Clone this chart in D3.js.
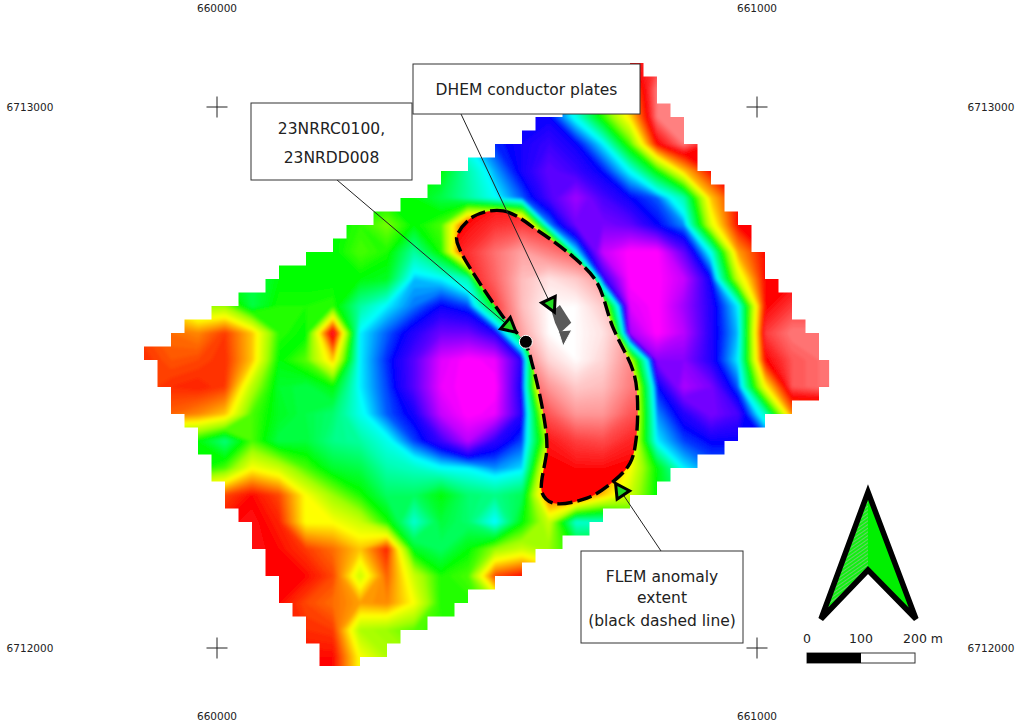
<!DOCTYPE html>
<html>
<head>
<meta charset="utf-8">
<style>
  html, body { margin: 0; background: #fff; }
  text { font-family: "DejaVu Sans", sans-serif; fill: #222; }
</style>
<script src="https://cdn.jsdelivr.net/npm/d3@7"></script>
</head>
<body>
<svg id="chart" width="1024" height="724"></svg>
<script>
// survey grid, one row of readings every 2 stations (colour position on the ramp)
var gridRows = [
  [5,5,5,5,5,5,5,5,5,5,5,4,3,2.5,2,2.2,4,7,9,9.5,10,10,10,10,10,10,10],
  [5,5,5,5,5,5,5,5,5,5,5,4,3,2.3,1.8,2.2,3.5,5.8,8,10,10,10,10,10,10,10,10],
  [5,5,5,5,5,5,5,5,5,5,5,4,3,2.3,2,2,3.2,5.3,7.3,10,10,10,10,10,10,10,10],
  [5,5,5,5,5,5,5,5,5,5,5,5,3,2.2,1.9,1.6,2,3,5.5,9,10,9,9,9,9,9,9],
  [5,5,5,5,5,5,5,5,5,5,5,5,3.7,2.7,1.9,1.3,1.6,2.1,3.1,5.1,7.5,9,9,9,9,9,9],
  [5,5,5,5,5,5,5,5,5,5,5,4.5,3.8,3.1,2.4,1.5,0.8,1.5,2,2.4,3.7,7.5,9,9,9,9,9],
  [5,5,5,5,5,5,5,5,5.3,5.8,5,5.5,9,9.5,9.2,2.6,1.2,1.1,1.3,2,2.6,6.7,9,9,9,9,9],
  [5,5,5,5,5,5,5,5,5.5,5.2,3.8,5.2,9.6,10,10.3,10,3,0.5,0,0,1.3,3.2,7.8,9,9,9,9],
  [5,5,5,5,4.5,5,5,5,5,4.8,2.8,3,3.7,10.2,10.6,10.8,10.5,1.8,0,0,0.5,2,6.5,9,9,9,9],
  [8,7,6,6,4.5,5.2,5.2,5.3,3.8,3,2.5,2,2.3,5,10.8,11,10.8,6.6,0.3,0,0.8,1.8,3,9,9.5,9.5,9.5],
  [8.5,8.2,8,8.6,7.5,5.3,5,9.5,3,2.4,1.8,1.2,1.2,1.8,5,11,11,10,0.8,0,0.6,1.8,2.8,9.5,10,10,10],
  [8.7,8.4,8.5,8.7,7.5,5,5.6,7.5,3,2.2,1.4,0.3,0,0.2,1.8,10.8,10.8,10.5,6.5,1,1,1.8,3,9,9.7,9.9,9.9],
  [8.5,8.7,8.8,8.6,6.3,4.7,4.5,5,3,2.3,1.4,0.2,0,0,2,10.4,10.6,10.2,8,2.1,0.7,1.1,2.4,7,9.7,9.9,9.9],
  [8.5,8.3,8,7.5,5.5,4.8,4.5,4.2,3.2,2.4,1.9,0.5,0,0.2,1.8,7.8,10.3,10,8,2.6,1.8,1.1,1.5,3.5,8,8,8],
  [5,5,5,4.1,5.5,4.5,4.6,4,3.8,3.2,2.3,1.6,0.6,1.7,2.3,6.5,9.6,9.5,7.5,3,2.3,2,2,2,2,2,2],
  [5,5,5,5.5,7,6.5,5.5,4.7,4.5,3.7,3.5,3.1,3,2.6,2.9,8,9.3,9.2,7,5,3,2.5,2.5,2.5,2.5,2.5,2.5],
  [8,8,8,8.5,9,8.5,7,6,5.2,4.3,4.3,5,4.2,4,4.4,8.5,9,7.5,6.5,5,4,4,4,4,4,4,4],
  [9,9,9,9,9.2,8.8,7,7,6.5,5.2,3.4,4.6,4.2,3,5,6.5,3.4,3.5,5,5,5,5,5,5,5,5,5],
  [9,9,9,9,9.2,9,8.6,8.2,7.5,8.8,4.8,4.3,5,6,6.5,6,5,5,5,5,5,5,5,5,5,5,5],
  [9,9,9,9,9,9,9,8.5,6.5,8.3,6.5,5.2,5.5,8.5,9,8,6,6,6,6,6,6,6,6,6,6,6],
  [9,9,9,9,9,9,8.5,8.2,7.8,8,7,5.2,5.2,6,6,6,6,6,6,6,6,6,6,6,6,6,6],
  [9,9,9,9,9,9,8.7,8.6,6.2,6,5.6,5.3,5.5,6,6,6,6,6,6,6,6,6,6,6,6,6,6],
  [9,9,9,9,9,9,9,9,7,6.2,6,5.5,5.5,6,6,6,6,6,6,6,6,6,6,6,6,6,6],
  [9,9,9,9,9,9,9,9,7,6.2,6,5.5,5.5,6,6,6,6,6,6,6,6,6,6,6,6,6,6]
];

// readings inside the anomaly, same spacing, starts at node 11 of grid row 5
var anomalyRows = [
  [9,9,9,9,9,9,9,9,9],
  [9,9.1,9.4,9.5,9.3,9.2,9.2,9.2,9],
  [9,9.4,9.9,10.3,10,9.7,9.5,9.5,9],
  [9,9.2,9.8,10.5,10.8,10.6,10.2,9.8,9.5],
  [9,9,9.5,10.5,11,11,10.6,10.2,10],
  [9,9,9.4,10.3,11,11,10.8,10.2,10],
  [9,9,9.4,9.9,10.7,11,10.7,10.1,10],
  [9,9,9,9.5,10.2,10.6,10.5,10,9.8],
  [9,9,9,9.2,9.7,10.2,10.2,9.7,9.5],
  [9,9,9,9,9.2,9.5,9.6,9.3,9.1],
  [9,9,9,9,9,9.1,9.1,9,9],
  [9,9,9,9,9,9,9,9,9],
  [9,9,9,9,9,9,9,9,9]
];

// first and last station of every line of the survey, top to bottom
var lineStart = [36,34,32,31,29,28,26,24,22,21,19,17,15,14,12,10,9,7,5,3,2,0,1,1,2,2,3,4,4,5,5,6,6,7,8,8,9,9,10,10,11,12,12,13,13];
var lineEnd = [37,38,38,39,40,40,41,41,42,43,43,44,45,45,46,46,47,48,48,49,50,50,50.75,50.75,50,48,46,44,43,41,39,38,36,34,33,31,29,28,26,24,23,21,19,18,16];

var rampStops = [0,1,2,3,4,5,6,7,8,9,10,11];
var rampColors = ["#ff00ff","#8000ff","#0000ff","#00ffff","#00ff80","#00ff00","#a0ff00","#ffff00","#ff8000","#ff0000","#ff8080","#ffffff"];

var eastTicks = [660000, 661000];
var northTicks = [6713000, 6712000];
var barMetres = [0, 100, 200];
var barLabels = ["0", "100", "200 m"];

var anomalyEast = [660474,660530,660598,660672,660704,660733,660770,660778,660776,660765,660733,660685,660622,660602,660611,660604,660585,660572,660530,660483,660450,660444];
var anomalyNorth = [6712797,6712808,6712769,6712712,6712675,6712593,6712514,6712471,6712385,6712342,6712307,6712277,6712268,6712287,6712372,6712435,6712520,6712560,6712612,6712680,6712736,6712760];

var plateEast = [660620,660635,660656,660635,660626];
var plateNorth = [6712621,6712634,6712601,6712582,6712601];
var plateTailEast = [660632,660657,660641];
var plateTailNorth = [6712586,6712588,6712558];

var holeEast = 660572, holeNorth = 6712566;

var svg = d3.select("#chart");
var defs = svg.append("defs");

var x = d3.scaleLinear().domain(eastTicks).range([217, 757]);
var y = d3.scaleLinear().domain(northTicks).range([107, 648]);

// station number -> pixel
var stationX = d3.scaleLinear().domain([0, 1]).range([144, 157.5]);
var stationY = d3.scaleLinear().domain([0, 1]).range([63, 76.5]);
var nodeX = d3.scaleLinear().domain([0, 1]).range([144, 171]);
var nodeY = d3.scaleLinear().domain([0, 1]).range([63, 90]);
var color = d3.scaleLinear().domain(rampStops).range(rampColors);

// stair stepped outline of the survey, one path so the lines leave no seams
var surveyPath = lineStart.map(function(d, i) {
  var bottom = i == lineStart.length - 1 ? 666 : stationY(i + 1);
  return "M" + stationX(d) + "," + stationY(i) + "H" + stationX(lineEnd[i]) + "V" + bottom + "H" + stationX(d) + "Z";
}).join("");
defs.append("clipPath").attr("id", "survey").append("path").attr("d", surveyPath);

// FLEM anomaly extent
var outline = d3.line()
  .x(function(d) { return x(anomalyEast[d]); })
  .y(function(d) { return y(anomalyNorth[d]); })
  .curve(d3.curveCatmullRomClosed.alpha(0.5));
var outlinePath = outline(d3.range(anomalyEast.length));
defs.append("clipPath").attr("id", "inside").append("path").attr("d", outlinePath);

defs.append("filter").attr("id", "soft")
  .attr("x", 0).attr("y", 0).attr("width", 1).attr("height", 1)
  .append("feGaussianBlur").attr("stdDeviation", 1.8);

var hatch = defs.append("pattern").attr("id", "hatch")
  .attr("width", 3).attr("height", 3)
  .attr("patternUnits", "userSpaceOnUse")
  .attr("patternTransform", "rotate(-35)");
hatch.append("rect").attr("width", 3).attr("height", 3).attr("fill", "#10f010");
hatch.append("rect").attr("width", 3).attr("height", 1).attr("fill", "#6ad06a");

function drawGrid(rows, thresholds, startCol, startRow, clipId) {
  var nRows = rows.length, nCols = rows[0].length;
  var contours = d3.contours().size([nCols, nRows]).thresholds(thresholds)(d3.merge(rows));
  var path = d3.geoPath(d3.geoTransform({
    point: function(px, py) { this.stream.point(nodeX(px - 0.5 + startCol), nodeY(py - 0.5 + startRow)); }
  }));
  svg.append("g").attr("clip-path", "url(#" + clipId + ")")
    .append("g").attr("filter", "url(#soft)")
    .selectAll("path").data(contours).join("path")
    .attr("d", path)
    .attr("fill", function(d) { return color(d.value); });
}
drawGrid(gridRows, d3.range(0, 11.05, 0.1), 0, 0, "survey");
drawGrid(anomalyRows, d3.range(9, 11.02, 0.05), 11, 5, "inside");

svg.append("path")
  .attr("d", outlinePath)
  .attr("fill", "none")
  .attr("stroke", "#000")
  .attr("stroke-width", 3.4)
  .attr("stroke-dasharray", "15 5");

// conductor plates
function plate(es, ns, fill, stroke) {
  svg.append("polygon")
    .attr("points", es.map(function(e, i) { return x(e) + "," + y(ns[i]); }).join(" "))
    .attr("fill", fill).attr("stroke", stroke || "none");
}
plate(plateTailEast, plateTailNorth, "#555", "#fff");
plate(plateEast, plateNorth, "#5a5a5a");

// graticule crosses and labels
var crossPts = d3.cross(eastTicks, northTicks);
svg.append("g").selectAll("path").data(crossPts).join("path")
  .attr("d", function(d) {
    var cx = x(d[0]), cy = y(d[1]);
    return "M" + (cx - 10.5) + "," + cy + "H" + (cx + 10.5) + "M" + cx + "," + (cy - 10.5) + "V" + (cy + 10.5);
  })
  .attr("stroke", "#222").attr("fill", "none").attr("stroke-width", 1);

[12, 720].forEach(function(ty) {
  svg.append("g").selectAll("text").data(eastTicks).join("text")
    .attr("x", function(d) { return x(d); }).attr("y", ty)
    .attr("text-anchor", "middle").attr("font-size", 10.5)
    .text(function(d) { return d; });
});
[30, 991].forEach(function(tx) {
  svg.append("g").selectAll("text").data(northTicks).join("text")
    .attr("x", tx).attr("y", function(d) { return y(d) + 4; })
    .attr("text-anchor", "middle").attr("font-size", 10.5)
    .text(function(d) { return d; });
});

// callouts, leader first then box then text
function callout(box, lines, lineY, from, to) {
  svg.append("line")
    .attr("x1", from[0]).attr("y1", from[1]).attr("x2", to[0]).attr("y2", to[1])
    .attr("stroke", "#222").attr("stroke-width", 1);
  var ang = Math.atan2(to[1] - from[1], to[0] - from[0]) * 180 / Math.PI;
  svg.append("path")
    .attr("d", "M8,0L-6,-7.5L-6,7.5Z")
    .attr("transform", "translate(" + to[0] + "," + to[1] + ") rotate(" + ang + ")")
    .attr("fill", "#22dd22").attr("stroke", "#000").attr("stroke-width", 3)
    .attr("stroke-linejoin", "miter");
  svg.append("rect")
    .attr("x", box[0]).attr("y", box[1]).attr("width", box[2]).attr("height", box[3])
    .attr("fill", "#fff").attr("stroke", "#333").attr("stroke-width", 1);
  svg.append("g").selectAll("text").data(lines).join("text")
    .attr("x", box[0] + box[2] / 2)
    .attr("y", function(d, i) { return lineY[i]; })
    .attr("text-anchor", "middle").attr("font-size", 15.5)
    .text(function(d) { return d; });
}
callout([413, 64, 227, 50], ["DHEM conductor plates"], [95], [461, 114], [551, 305]);
callout([251, 103, 161, 77], ["23NRRC0100,", "23NRDD008"], [134, 163], [337, 180], [510, 327]);
callout([581, 551, 162, 92], ["FLEM anomaly", "extent", "(black dashed line)"], [582, 603, 626], [661, 551], [620, 490]);

// collar
svg.append("circle")
  .attr("cx", x(holeEast)).attr("cy", y(holeNorth)).attr("r", 6.5)
  .attr("fill", "#000").attr("stroke", "#fff").attr("stroke-width", 1);

// north arrow
var north = svg.append("g");
north.append("path").attr("d", "M868,492L868,570L821,619Z").attr("fill", "url(#hatch)");
north.append("path").attr("d", "M868,492L868,570L916,619Z").attr("fill", "#00f000");
north.append("path").attr("d", "M868,492L916,619L868,570L821,619Z")
  .attr("fill", "none").attr("stroke", "#000").attr("stroke-width", 5.5).attr("stroke-linejoin", "miter");

// scale bar uses the same ground scale as the map
var bar = d3.scaleLinear().domain([0, 200]).range([807, 915]);
svg.append("rect").attr("x", bar(0)).attr("y", 653).attr("width", bar(200) - bar(0)).attr("height", 10)
  .attr("fill", "#fff").attr("stroke", "#333");
svg.append("rect").attr("x", bar(0)).attr("y", 653).attr("width", bar(100) - bar(0)).attr("height", 10)
  .attr("fill", "#000");
svg.append("g").selectAll("text").data(barMetres).join("text")
  .attr("x", function(d, i) { return bar(d) + (i == 2 ? 8 : 0); })
  .attr("y", 643)
  .attr("text-anchor", "middle").attr("font-size", 12.5)
  .text(function(d, i) { return barLabels[i]; });
</script>
</body>
</html>
